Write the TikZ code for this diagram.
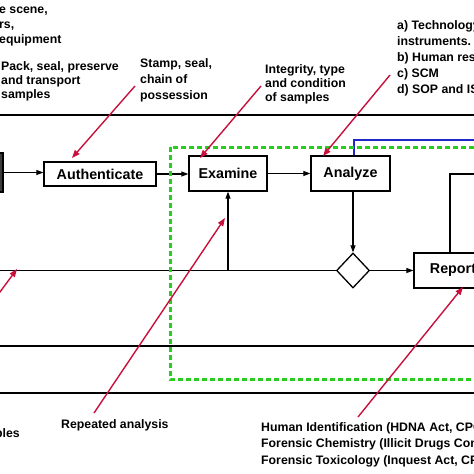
\documentclass[tikz,border=0pt]{standalone}
\usepackage{fontspec}
\setmainfont{Liberation Sans}
\usetikzlibrary{arrows.meta,shapes.geometric}
\definecolor{ptr}{RGB}{200,16,60}
\definecolor{grn}{RGB}{40,205,30}
\definecolor{blu}{RGB}{30,40,200}
\definecolor{darkbox}{RGB}{60,60,60}
\begin{document}
\begin{tikzpicture}[x=1pt,y=-1pt,
  box/.style={draw, line width=1.3pt, inner sep=0pt, font=\bfseries\fontsize{14.3}{16}\selectfont},
  lbl/.style={inner sep=0pt, anchor=base west, align=left, font=\bfseries\fontsize{12.3}{15}\selectfont},
  arr/.style={line width=1.2pt, -{Triangle[length=7pt,width=5pt]}},
  conn/.style={line width=1.2pt},
  lane/.style={line width=1.2pt},
  pointer/.style={draw=ptr, line width=1.4pt, -{Triangle[length=8pt,width=6pt]}},
  grnbox/.style={draw=grn, line width=3pt, dash pattern=on 5pt off 3pt},
  blueline/.style={draw=blu, line width=1.2pt}]
\useasboundingbox (0,0) rectangle (474,474);
\clip (0,0) rectangle (474,474);

% lanes
\draw[lane] (-5,115) -- (480,115);
\draw[lane] (-5,346) -- (480,346);
\draw[lane] (-5,393) -- (480,393);

% nodes
\node[box, minimum width=23pt, minimum height=39pt, fill=darkbox] (src) at (-8.5,172.5) {};
\node[box, minimum width=112pt, minimum height=24pt] (auth) at (100,174) {Authenticate};
\node[box, minimum width=78pt, minimum height=35pt] (exam) at (228,173.5) {Examine};
\node[box, minimum width=79pt, minimum height=35pt] (anal) at (350.5,173.5) {Analyze};
\node[box, minimum width=78pt, minimum height=35pt] (report) at (453,270.5) {Report};
\node[draw, diamond, line width=1.3pt, inner sep=0pt, minimum width=33pt, minimum height=35pt] (dia) at (353,270.5) {};

\coordinate (lout) at (-5,270.5);
\coordinate (rout) at (480,174);
\coordinate (bout) at (480,140);

% connectors
\draw[arr] (src.east) -- (src.east -| auth.west);
\draw[arr] (auth.east) -- (auth.east -| exam.west);
\draw[arr] (exam) -- (anal);
\draw[arr] (dia.north |- anal.south) -- (dia.north);
\draw[arr] (dia.east) -- (dia.east -| report.west);
\draw[conn] (dia.west) -- (lout);
\draw[arr] (exam.south |- dia.west) -- (exam.south);
\draw[conn] ([xshift=-3pt]report.north) |- (rout);
\draw[blueline] ([xshift=3.5pt]anal.north) |- (bout);

% green dashed region
\draw[grnbox] (170,147) rectangle (490,379);

% labels (anchor = baseline of the last line)
\node[lbl] (crime) at (-1,43) {e scene,\\rs,\\equipment};
\node[lbl, font=\bfseries\fontsize{12.3}{14}\selectfont] (pack) at (1,98) {Pack, seal, preserve\\and transport\\samples};
\node[lbl, font=\bfseries\fontsize{12.3}{16}\selectfont] (stamp) at (140,99) {Stamp, seal,\\chain of\\possession};
\node[lbl, font=\bfseries\fontsize{12.3}{13.7}\selectfont] (integ) at (265,101) {Integrity, type\\and condition\\of samples};
\node[lbl, font=\bfseries\fontsize{12.3}{16}\selectfont] (tech) at (397,93) {a) Technology\\instruments.\\b) Human reso\\c) SCM\\d) SOP and ISO};
\node[lbl] (repeat) at (61,428) {Repeated analysis};
\node[lbl, font=\bfseries\fontsize{12.3}{16.5}\selectfont] (human) at (261,464) {Human Identification (HDNA Act, CPC\\Forensic Chemistry (Illicit Drugs Con\\Forensic Toxicology (Inquest Act, CP};
\node[lbl, anchor=base east] (ples) at (20,437) {ples};

% pointers
\coordinate (s1) at (135,86);  \coordinate (t1) at (72,158);
\coordinate (s2) at (261,86);  \coordinate (t2) at (200,158);
\coordinate (s3) at (390,75);  \coordinate (t3) at (323,156);
\coordinate (s4) at (94,413);  \coordinate (t4) at (225,218);
\coordinate (s5) at (358,417); \coordinate (t5) at (463,287);
\coordinate (s6) at (-3,296);  \coordinate (t6) at (17,269);
\draw[pointer] (s1) -- (t1);
\draw[pointer] (s2) -- (t2);
\draw[pointer] (s3) -- (t3);
\draw[pointer] (s4) -- (t4);
\draw[pointer] (s5) -- (t5);
\draw[pointer] (s6) -- (t6);
\end{tikzpicture}
\end{document}
